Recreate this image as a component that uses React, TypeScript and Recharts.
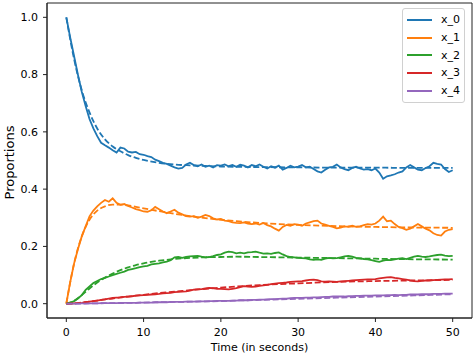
import { LineChart, Line, XAxis, YAxis, ReferenceArea, Legend } from 'recharts'

// simulated trajectories, one sample every 0.5 s from t = 0 to t = 50
const x0 = [
  1.0, 0.93, 0.865, 0.8, 0.74, 0.69, 0.645, 0.612, 0.585, 0.562,
  0.553, 0.545, 0.536, 0.528, 0.545, 0.542, 0.531, 0.528, 0.53, 0.522,
  0.52, 0.515, 0.512, 0.503, 0.498, 0.492, 0.488, 0.482, 0.476, 0.472,
  0.474, 0.486, 0.492, 0.484, 0.48, 0.486, 0.478, 0.482, 0.476, 0.484,
  0.482, 0.486, 0.48, 0.484, 0.478, 0.485, 0.482, 0.476, 0.484, 0.48,
  0.486, 0.478, 0.472, 0.48, 0.475, 0.482, 0.468, 0.474, 0.482, 0.476,
  0.479, 0.484, 0.476, 0.478, 0.47, 0.462, 0.458, 0.468, 0.476, 0.478,
  0.486, 0.476, 0.47, 0.466, 0.474, 0.478, 0.472, 0.468, 0.47, 0.466,
  0.472, 0.458, 0.436, 0.445, 0.448, 0.452, 0.458, 0.462, 0.476, 0.484,
  0.476, 0.468, 0.466, 0.474, 0.48, 0.492, 0.488, 0.486, 0.47, 0.46,
  0.466,
]
const x1 = [
  0, 0.075, 0.14, 0.19, 0.235, 0.27, 0.305, 0.325, 0.34, 0.352,
  0.362, 0.356, 0.368, 0.352, 0.345, 0.348, 0.341, 0.336, 0.33, 0.327,
  0.322, 0.321, 0.326, 0.338, 0.33, 0.322, 0.316, 0.322, 0.328, 0.318,
  0.312, 0.306, 0.304, 0.306, 0.3, 0.304, 0.31, 0.306, 0.298, 0.294,
  0.296, 0.29, 0.288, 0.284, 0.282, 0.281, 0.284, 0.28, 0.278, 0.28,
  0.276, 0.282, 0.274, 0.27, 0.262, 0.255, 0.268, 0.275, 0.272, 0.278,
  0.276, 0.272, 0.28, 0.284, 0.288, 0.29, 0.28, 0.276, 0.272, 0.268,
  0.263, 0.266, 0.27, 0.268, 0.272, 0.268, 0.27, 0.274, 0.278, 0.276,
  0.28, 0.29, 0.304, 0.288, 0.29, 0.278, 0.268, 0.264, 0.258, 0.262,
  0.27, 0.278, 0.27, 0.262, 0.256, 0.246, 0.24, 0.238, 0.252, 0.258,
  0.26,
]
const x2 = [
  0, 0.003, 0.009, 0.018, 0.03, 0.048, 0.06, 0.072, 0.079, 0.086,
  0.09, 0.095, 0.1, 0.104, 0.108, 0.112, 0.118, 0.121, 0.124, 0.128,
  0.13, 0.132, 0.137, 0.139, 0.141, 0.144, 0.147, 0.152, 0.162, 0.163,
  0.16, 0.163, 0.165, 0.166, 0.167, 0.164, 0.162, 0.163, 0.166, 0.17,
  0.172, 0.178, 0.182, 0.18, 0.176, 0.178, 0.176, 0.179, 0.18, 0.182,
  0.178, 0.175, 0.176, 0.174, 0.177, 0.179, 0.172, 0.166, 0.163, 0.162,
  0.16, 0.159, 0.158, 0.155, 0.153, 0.155, 0.153, 0.157, 0.16, 0.158,
  0.159, 0.162, 0.165, 0.167, 0.164, 0.16, 0.158, 0.156, 0.155, 0.152,
  0.149, 0.146, 0.15, 0.153, 0.152, 0.155, 0.157, 0.159, 0.156, 0.16,
  0.164, 0.167, 0.164, 0.163, 0.165, 0.168, 0.17, 0.171, 0.168, 0.166,
  0.167,
]
const x3 = [
  0, 0, 0.001, 0.002, 0.003, 0.005, 0.007, 0.009, 0.011, 0.013,
  0.015, 0.018, 0.02, 0.021, 0.022, 0.024, 0.025, 0.026, 0.028, 0.029,
  0.03, 0.031, 0.032, 0.033, 0.034, 0.036, 0.037, 0.038, 0.04, 0.041,
  0.042, 0.043, 0.046, 0.049, 0.05, 0.051, 0.053, 0.055, 0.054, 0.052,
  0.052, 0.051, 0.05, 0.052, 0.054, 0.058, 0.061, 0.06, 0.059, 0.06,
  0.062, 0.064, 0.066, 0.068, 0.07, 0.072, 0.073, 0.074, 0.076, 0.077,
  0.078, 0.079, 0.081, 0.083, 0.084, 0.082, 0.078, 0.077, 0.078, 0.077,
  0.076, 0.078, 0.079, 0.08, 0.081, 0.082, 0.083, 0.084, 0.085, 0.085,
  0.086, 0.088, 0.09, 0.092, 0.093, 0.09, 0.088, 0.086, 0.084, 0.081,
  0.079, 0.078, 0.08, 0.081, 0.081, 0.082, 0.083, 0.084, 0.085, 0.085,
  0.086,
]
const x4 = [
  0, 0, 0, 0, 0.001, 0.001, 0.001, 0.001, 0.001, 0.002,
  0.002, 0.002, 0.002, 0.002, 0.003, 0.003, 0.003, 0.003, 0.003, 0.004,
  0.004, 0.004, 0.004, 0.005, 0.005, 0.005, 0.005, 0.006, 0.006, 0.006,
  0.006, 0.007, 0.007, 0.007, 0.008, 0.008, 0.008, 0.009, 0.009, 0.01,
  0.01, 0.01, 0.01, 0.011, 0.011, 0.012, 0.012, 0.012, 0.013, 0.013,
  0.014, 0.014, 0.015, 0.016, 0.016, 0.017, 0.018, 0.018, 0.019, 0.02,
  0.02, 0.02, 0.021, 0.021, 0.022, 0.022, 0.023, 0.024, 0.024, 0.025,
  0.025, 0.025, 0.025, 0.026, 0.026, 0.027, 0.027, 0.028, 0.028, 0.028,
  0.029, 0.029, 0.029, 0.03, 0.03, 0.031, 0.03, 0.031, 0.031, 0.032,
  0.032, 0.032, 0.033, 0.033, 0.033, 0.034, 0.034, 0.034, 0.035, 0.035,
  0.035,
]

// smooth (dashed) curves, read at these times
const fitT = [0, 1, 2, 3, 4, 5, 6, 7, 8, 9, 10, 12, 14, 16, 18, 20, 22, 25, 30, 35, 40, 45, 50]
const f0 = [1.0, 0.855, 0.745, 0.668, 0.612, 0.574, 0.549, 0.532, 0.519, 0.509, 0.502, 0.492, 0.486, 0.483, 0.481, 0.479, 0.478, 0.477, 0.476, 0.475, 0.475, 0.474, 0.474]
const f1 = [0, 0.14, 0.235, 0.293, 0.325, 0.34, 0.346, 0.346, 0.343, 0.338, 0.333, 0.323, 0.314, 0.306, 0.299, 0.293, 0.288, 0.282, 0.275, 0.271, 0.268, 0.266, 0.265]
const f2 = [0, 0.01, 0.03, 0.053, 0.074, 0.091, 0.105, 0.117, 0.127, 0.135, 0.141, 0.15, 0.156, 0.16, 0.162, 0.163, 0.164, 0.163, 0.161, 0.159, 0.157, 0.155, 0.154]
const f3 = [0, 0.001, 0.004, 0.007, 0.011, 0.015, 0.018, 0.022, 0.025, 0.028, 0.031, 0.037, 0.042, 0.047, 0.052, 0.056, 0.06, 0.065, 0.071, 0.076, 0.079, 0.081, 0.083]
const f4 = [0, 0, 0, 0.001, 0.001, 0.002, 0.002, 0.002, 0.003, 0.003, 0.004, 0.005, 0.006, 0.007, 0.008, 0.009, 0.011, 0.013, 0.017, 0.021, 0.025, 0.029, 0.033]

const names = ['x_0', 'x_1', 'x_2', 'x_3', 'x_4']
const colors = ['#1f77b4', '#ff7f0e', '#2ca02c', '#d62728', '#9467bd']
const xTicks = [0, 10, 20, 30, 40, 50]
const yTicks = [0, 0.2, 0.4, 0.6, 0.8, 1.0]

const sims = [x0, x1, x2, x3, x4]
const fits = [f0, f1, f2, f3, f4]

const rows = x0.map((_, i) => {
  const t = i * 0.5
  const row: Record<string, number | null> = { t }
  const k = fitT.indexOf(t)
  sims.forEach((s, j) => {
    row[names[j]] = s[i]
    row['fit' + j] = k >= 0 ? fits[j][k] : null
  })
  return row
})

const font = 'DejaVu Sans, sans-serif'
const tickStyle = { fontSize: 11, fill: '#000', fontFamily: font }

function LegendBox() {
  return (
    <div style={{
      border: '1px solid #d0d0d0', borderRadius: 3, background: 'rgba(255,255,255,0.8)',
      padding: '2px 0 3px 4px', width: 63, boxSizing: 'border-box', fontFamily: font, fontSize: 11,
    }}>
      {names.map((n, i) => (
        <div key={n} style={{ display: 'flex', alignItems: 'center', height: 17.7 }}>
          <div style={{ width: 25, height: 2, background: colors[i], marginRight: 9 }} />
          <span style={{ color: '#000' }}>{n}</span>
        </div>
      ))}
    </div>
  )
}

export default function App() {
  return (
    <div style={{ position: 'absolute', left: 0, top: 0, background: '#fff' }}>
      <LineChart width={474} height={355} data={rows} margin={{ top: 3, right: 2, bottom: 0, left: 0 }}>
        <XAxis
          dataKey="t" type="number" domain={[-2.5, 52.5]} ticks={xTicks}
          height={37} tickSize={4} tickMargin={6} tick={tickStyle}
          stroke="#222" tickLine={{ stroke: '#222' }}
          label={{ value: 'Time (in seconds)', position: 'center', dy: 11, style: { fontSize: 11, fill: '#000', fontFamily: font } }}
        />
        <YAxis
          type="number" domain={[-0.05, 1.05]} ticks={yTicks} width={47}
          tickSize={4} tickMargin={5} tick={tickStyle} tickFormatter={(v: number) => v.toFixed(1)}
          stroke="#222" tickLine={{ stroke: '#222' }}
          label={{ value: 'Proportions', angle: -90, position: 'center', dx: -14, dy: 2, style: { fontSize: 13, fill: '#000', fontFamily: font } }}
        />
        <ReferenceArea x1={-2.5} x2={52.5} y1={-0.05} y2={1.05} fill="none" stroke="#222" strokeWidth={1} />
        {names.map((n, i) => (
          <Line
            key={n} dataKey={n} stroke={colors[i]} strokeWidth={1.8} dot={false}
            activeDot={false} isAnimationActive={false} type="linear"
          />
        ))}
        {names.map((n, i) => (
          <Line
            key={'fit' + i} dataKey={'fit' + i} stroke={colors[i]} strokeWidth={1.8}
            strokeDasharray="6 2.6" dot={false} activeDot={false} isAnimationActive={false}
            type="monotone" connectNulls legendType="none"
          />
        ))}
        <Legend
          layout="vertical" align="center" verticalAlign="middle" content={<LegendBox />}
          wrapperStyle={{ position: 'absolute', top: 8, left: 402, width: 63, margin: 0 }}
        />
      </LineChart>
    </div>
  )
}
